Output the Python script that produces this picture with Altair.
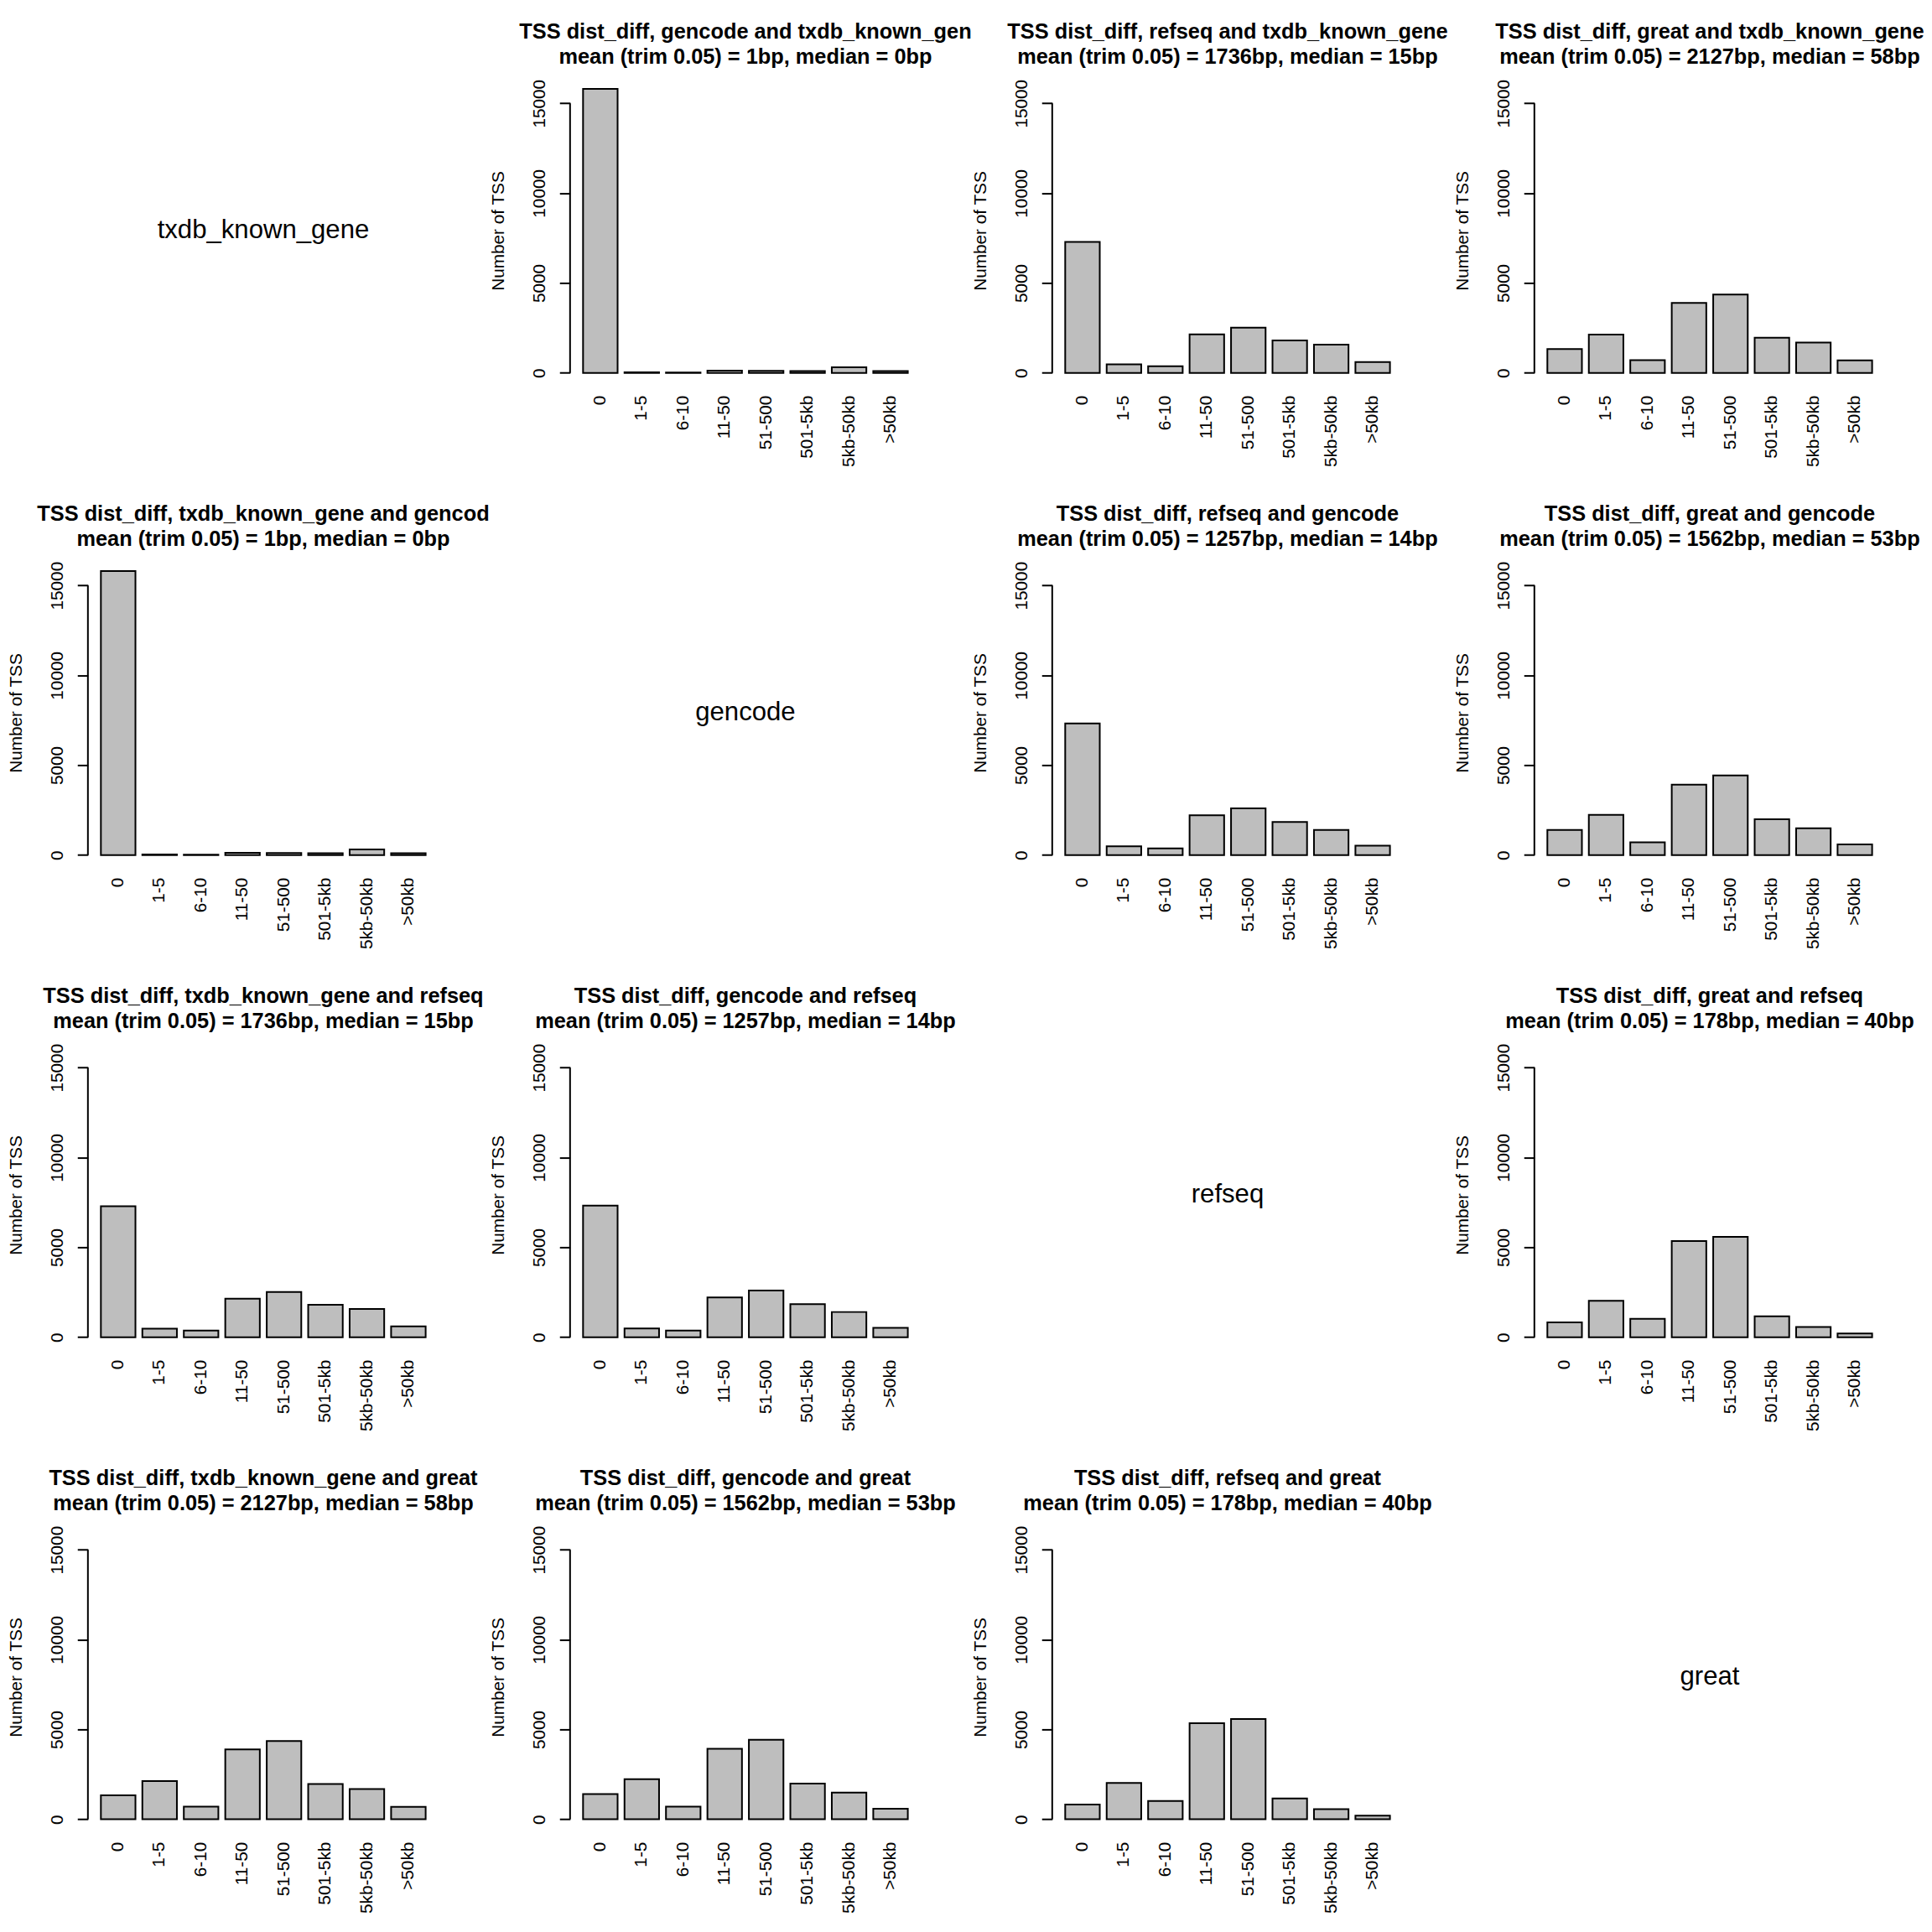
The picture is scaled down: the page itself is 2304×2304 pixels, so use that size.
import altair as alt
import pandas as pd

SOURCES = ["txdb_known_gene", "gencode", "refseq", "great"]
BINS = ["0", "1-5", "6-10", "11-50", "51-500", "501-5kb", "5kb-50kb", ">50kb"]

# number of TSS per distance bin, one list per pair of annotations
GENCODE_TXDB = [15800, 35, 20, 125, 115, 95, 315, 95]
REFSEQ_TXDB = [7290, 470, 365, 2145, 2515, 1805, 1570, 600]
GREAT_TXDB = [1330, 2125, 705, 3890, 4360, 1960, 1690, 690]
REFSEQ_GENCODE = [7325, 485, 365, 2210, 2600, 1840, 1400, 520]
GREAT_GENCODE = [1400, 2230, 705, 3920, 4430, 1990, 1485, 585]
GREAT_REFSEQ = [825, 2025, 1025, 5345, 5580, 1160, 570, 200]

PAIRS = [
    ("gencode", "txdb_known_gene"),
    ("refseq", "txdb_known_gene"),
    ("great", "txdb_known_gene"),
    ("refseq", "gencode"),
    ("great", "gencode"),
    ("great", "refseq"),
]
COUNTS = [GENCODE_TXDB, REFSEQ_TXDB, GREAT_TXDB, REFSEQ_GENCODE, GREAT_GENCODE, GREAT_REFSEQ]
MEAN_BP = [1, 1736, 2127, 1257, 1562, 178]
MEDIAN_BP = [0, 15, 58, 14, 53, 40]

# titles that R clipped at the edge of their cell
CLIPPED = {
    (0, 1): "TSS dist_diff, gencode and txdb_known_gen",
    (1, 0): "TSS dist_diff, txdb_known_gene and gencod",
}

FONT = "Liberation Sans"
BASE = 20.8
PLOT_W = 419
PLOT_H = 367
CELL = 576
Y_DOMAIN = [-633, 16463]


def pair_index(a, b):
    for i, p in enumerate(PAIRS):
        if set(p) == {a, b}:
            return i
    raise KeyError((a, b))


def bar_panel(row, col):
    i = pair_index(SOURCES[row], SOURCES[col])
    df = pd.DataFrame({"bin": BINS, "count": COUNTS[i]})
    line1 = CLIPPED.get((row, col), f"TSS dist_diff, {SOURCES[col]} and {SOURCES[row]}")
    if (row, col) in CLIPPED:
        # keep the cut line where the full one would have started
        line1 += "\u00a0\u00a0\u00a0"
    line2 = f"mean (trim 0.05) = {MEAN_BP[i]}bp, median = {MEDIAN_BP[i]}bp"

    bars = (
        alt.Chart(df)
        .mark_bar(fill="#BEBEBE", stroke="black", strokeWidth=2)
        .encode(
            x=alt.X(
                "bin:N",
                sort=BINS,
                scale=alt.Scale(paddingInner=1 / 6, paddingOuter=0.3133),
                axis=alt.Axis(
                    title=None, domain=False, ticks=False, tickSize=0,
                    labelAngle=270, labelAlign="right", labelBaseline="middle",
                    labelPadding=13, labelFontSize=BASE, labelFont=FONT,
                    labelColor="black", labelOverlap=False,
                ),
            ),
            y=alt.Y(
                "count:Q",
                scale=alt.Scale(domain=Y_DOMAIN, nice=False, zero=False),
                axis=alt.Axis(
                    values=[0, 5000, 10000, 15000], format="d", grid=False, domain=False,
                    tickSize=12.6, tickWidth=2, tickColor="black",
                    labelAngle=270, labelAlign="center", labelBaseline="alphabetic",
                    labelPadding=18, labelFontSize=BASE, labelFont=FONT,
                    labelColor="black", labelOverlap=False,
                    title="Number of TSS", titleFont=FONT, titleFontSize=BASE,
                    titleFontWeight="normal", titleColor="black", titleAngle=270,
                    titleAlign="center", titleBaseline="middle",
                    titleX=-85, titleY=PLOT_H / 2,
                ),
            ),
            y2=alt.datum(0),
        )
    )
    axis_line = (
        alt.Chart(pd.DataFrame({"a": [0]}))
        .mark_rule(color="black", strokeWidth=2)
        .encode(x=alt.value(0), y=alt.datum(0), y2=alt.datum(15000))
    )
    return alt.layer(bars, axis_line).properties(
        width=PLOT_W,
        height=PLOT_H,
        title=alt.TitleParams(
            text=[line1, line2], font=FONT, fontSize=25.4, fontWeight="bold",
            color="black", anchor="middle", frame="group", baseline="bottom",
            offset=-15, lineHeight=31,
        ),
    )


def label_panel(name):
    return (
        alt.Chart(pd.DataFrame({"name": [name]}))
        .mark_text(font=FONT, fontSize=31.2, color="black", align="center", baseline="alphabetic")
        .encode(x=alt.value(PLOT_W / 2), y=alt.value(192.4), text="name:N")
        .properties(width=PLOT_W, height=PLOT_H)
    )


panels = []
for r in range(4):
    for c in range(4):
        panels.append(label_panel(SOURCES[r]) if r == c else bar_panel(r, c))

chart = (
    alt.concat(
        *panels,
        columns=4,
        spacing={"row": CELL - PLOT_H, "column": CELL - PLOT_W},
        bounds="flush",
        padding={"left": 0, "top": 15, "right": 0, "bottom": 0},
    )
    .configure(background="white")
    .configure_view(stroke="transparent")
)

chart.save("out.html", embed_options={"renderer": "svg", "actions": False})
